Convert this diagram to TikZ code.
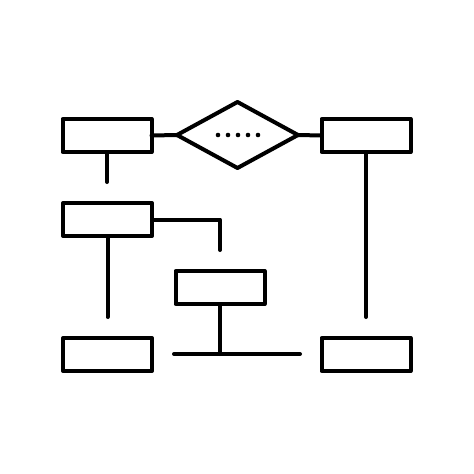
\documentclass[tikz,border=0pt]{standalone}
\usetikzlibrary{shapes.geometric}
\begin{document}
\begin{tikzpicture}[x=1pt,y=-1pt,
  every path/.style={line width=4pt, line join=round, line cap=round},
  box/.style={draw, rectangle, minimum width=89pt, minimum height=33pt, inner sep=0pt, outer sep=0pt},
  dia/.style={draw, diamond, minimum width=121pt, minimum height=66pt, inner sep=0pt, outer sep=0pt},
  dotmark/.style={fill=black, draw=none}]
\useasboundingbox (0,0) rectangle (474,474);
\node[box] (tl) at (107,135.5) {};
\node[dia] (d) at (237.5,135) {};
\node[box] (tr) at (366,135.5) {};
\node[box] (ml) at (107.5,219.5) {};
\node[box] (c) at (220,287.5) {};
\node[box] (bl) at (107.5,354.5) {};
\node[box] (br) at (366,354.5) {};
\foreach \i in {0,...,4} {\fill[dotmark] (218+10*\i,135) circle (2.3pt);}
\coordinate (e1) at (107,182);
\coordinate (e2) at (220,250);
\coordinate (e3) at (107.5,317);
\coordinate (e4) at (366,317);
\coordinate (j) at (220,354);
\coordinate (hL) at (174,354);
\coordinate (hR) at (300,354);
\draw (tl.east) -- (d.west);
\draw (d.east) -- (tr.west);
\draw (tl.south) -- (e1);
\draw (ml.east) -| (e2);
\draw (ml.south) -- (e3);
\draw (tr.south) -- (e4);
\draw (c.south) -- (j);
\draw (hL) -- (hR);
\end{tikzpicture}
\end{document}
